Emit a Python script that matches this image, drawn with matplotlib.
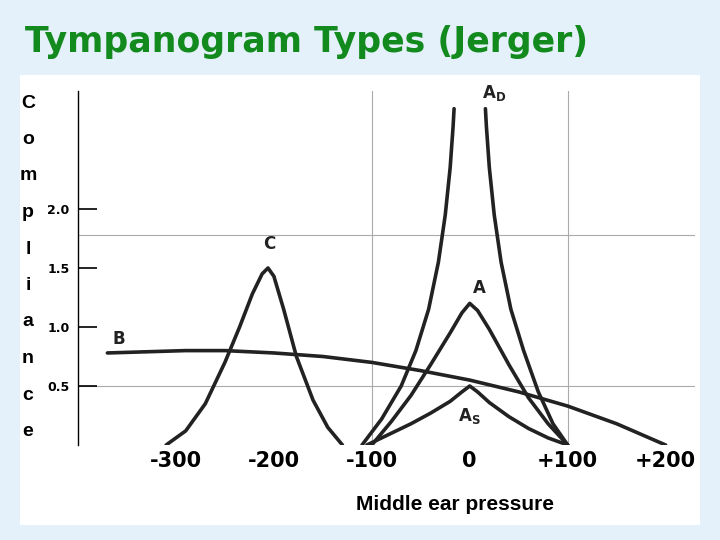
import matplotlib.pyplot as plt
from matplotlib.patches import Rectangle

# curves (pressure daPa, compliance ml)
c_x = [-310, -290, -270, -250, -235, -222, -212, -206, -200, -190, -177, -160, -145, -130]
c_y = [0.0, 0.12, 0.35, 0.7, 1.0, 1.28, 1.45, 1.5, 1.43, 1.15, 0.75, 0.38, 0.15, 0.0]

b_x = [-370, -330, -290, -250, -200, -150, -100, -50, 0, 50, 100, 150, 200]
b_y = [0.78, 0.79, 0.80, 0.80, 0.78, 0.75, 0.70, 0.63, 0.55, 0.45, 0.33, 0.18, 0.0]

a_x = [-100, -80, -60, -40, -20, -8, 0, 8, 20, 40, 60, 80, 100]
a_y = [0.0, 0.2, 0.42, 0.68, 0.95, 1.12, 1.2, 1.14, 0.98, 0.68, 0.4, 0.18, 0.0]

as_x = [-105, -80, -60, -40, -20, -8, 0, 8, 20, 40, 60, 80, 100]
as_y = [0.0, 0.1, 0.18, 0.27, 0.37, 0.45, 0.5, 0.45, 0.36, 0.24, 0.14, 0.06, 0.0]

ad_left_x = [-110, -90, -70, -55, -42, -32, -25, -20, -17, -16]
ad_left_y = [0.0, 0.22, 0.5, 0.8, 1.15, 1.55, 1.95, 2.35, 2.7, 2.85]
ad_right_x = [16, 17, 20, 25, 32, 42, 55, 70, 85, 100]
ad_right_y = [2.85, 2.7, 2.35, 1.95, 1.55, 1.15, 0.8, 0.45, 0.18, 0.0]

x_ticks = [-300, -200, -100, 0, 100, 200]
x_labels = ["-300", "-200", "-100", "0", "+100", "+200"]
y_ticks = [0.5, 1.0, 1.5, 2.0]
y_labels = ["0.5", "1.0", "1.5", "2.0"]

narrow = ["Liberation Sans Narrow", "Liberation Sans", "DejaVu Sans"]

fig = plt.figure(figsize=(7.2, 5.4), dpi=100)
fig.patch.set_facecolor("#e4f1fb")
fig.add_artist(Rectangle((20 / 720, 15 / 540), 680 / 720, 450 / 540,
                         transform=fig.transFigure, facecolor="white",
                         edgecolor="none", zorder=0))
fig.text(25 / 720, 1 - 42 / 540, "Tympanogram Types (Jerger)", color="#138a1e",
         fontsize=25, fontweight="bold", va="center", family="DejaVu Sans")

ax = fig.add_axes([78 / 720, 95 / 540, 617 / 720, 354 / 540])
ax.set_facecolor("none")
ax.set_xlim(-400, 230)
ax.set_ylim(0, 3.0)

for gx in [-100, 100]:
    ax.axvline(gx, color="#aaaaaa", lw=0.8, zorder=1)
for gy in [0.5, 1.78]:
    ax.axhline(gy, color="#aaaaaa", lw=0.8, zorder=1)

for xs, ys in [(c_x, c_y), (b_x, b_y), (a_x, a_y), (as_x, as_y),
               (ad_left_x, ad_left_y), (ad_right_x, ad_right_y)]:
    ax.plot(xs, ys, color="#222222", lw=2.6, solid_capstyle="round",
            solid_joinstyle="round", zorder=3)

lab = dict(fontsize=12, fontweight="bold", color="#222222", ha="center", va="center")
ax.text(-205, 1.7, "C", **lab)
ax.text(-358, 0.9, "B", **lab)
ax.text(10, 1.33, "A", **lab)
ax.text(0, 0.25, "A$_\\mathregular{S}$", **lab)
ax.text(25, 2.98, "A$_\\mathregular{D}$", clip_on=False, **lab)

for side in ["top", "right", "bottom"]:
    ax.spines[side].set_visible(False)
ax.spines["left"].set_linewidth(1.0)
ax.set_xticks(x_ticks, x_labels, fontsize=15, fontweight="bold")
ax.tick_params(axis="x", length=0, pad=4)
ax.set_yticks(y_ticks, y_labels, fontsize=9, fontweight="bold")
ax.tick_params(axis="y", direction="in", length=14, width=1.2, pad=6)

fig.text(455 / 720, 1 - 505 / 540, "Middle ear pressure", fontsize=15, fontweight="bold",
         ha="center", va="center", family=narrow)
for i, ch in enumerate("Compliance"):
    fig.text(28 / 720, 1 - (103 + i * 36.5) / 540, ch, fontsize=14, fontweight="bold",
             ha="center", va="center", family=narrow)

fig.savefig("out.png", dpi=100)
